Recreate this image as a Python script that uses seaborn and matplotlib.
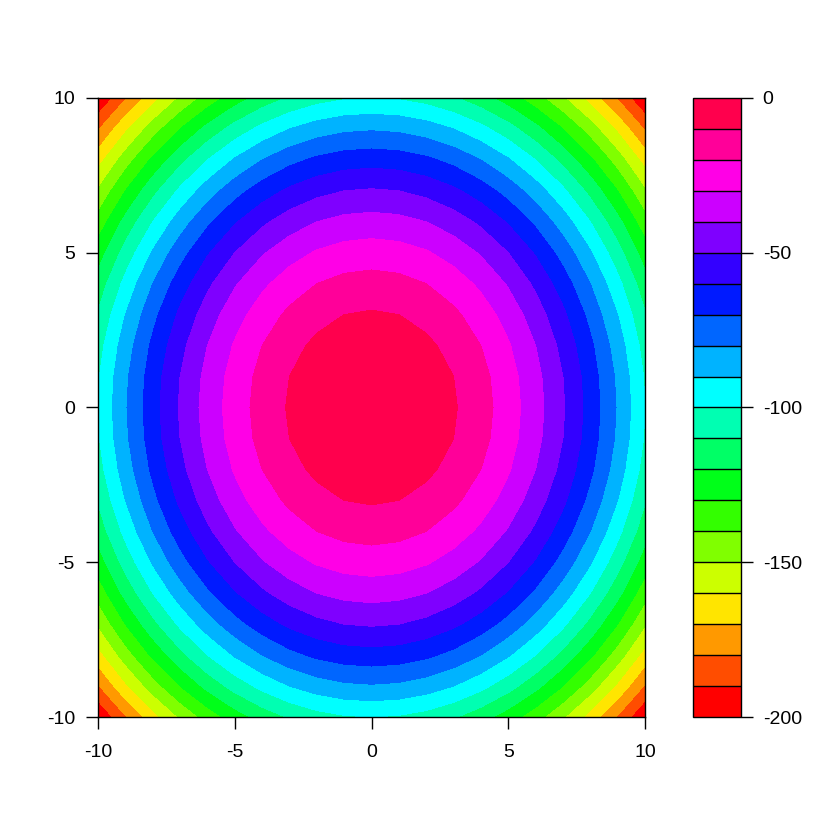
import matplotlib
matplotlib.use("Agg")
import matplotlib.pyplot as plt
import matplotlib.colors as mcolors
import numpy as np
import pandas as pd
import seaborn as sns

# grid coordinates
x_vals = [-10, -9, -8, -7, -6, -5, -4, -3, -2, -1, 0, 1, 2, 3, 4, 5, 6, 7, 8, 9, 10]
y_vals = [-10, -9, -8, -7, -6, -5, -4, -3, -2, -1, 0, 1, 2, 3, 4, 5, 6, 7, 8, 9, 10]

# surface values, rows follow y_vals, columns follow x_vals
z_rows = [
    [-200, -181, -164, -149, -136, -125, -116, -109, -104, -101, -100, -101, -104, -109, -116, -125, -136, -149, -164, -181, -200],
    [-181, -162, -145, -130, -117, -106, -97, -90, -85, -82, -81, -82, -85, -90, -97, -106, -117, -130, -145, -162, -181],
    [-164, -145, -128, -113, -100, -89, -80, -73, -68, -65, -64, -65, -68, -73, -80, -89, -100, -113, -128, -145, -164],
    [-149, -130, -113, -98, -85, -74, -65, -58, -53, -50, -49, -50, -53, -58, -65, -74, -85, -98, -113, -130, -149],
    [-136, -117, -100, -85, -72, -61, -52, -45, -40, -37, -36, -37, -40, -45, -52, -61, -72, -85, -100, -117, -136],
    [-125, -106, -89, -74, -61, -50, -41, -34, -29, -26, -25, -26, -29, -34, -41, -50, -61, -74, -89, -106, -125],
    [-116, -97, -80, -65, -52, -41, -32, -25, -20, -17, -16, -17, -20, -25, -32, -41, -52, -65, -80, -97, -116],
    [-109, -90, -73, -58, -45, -34, -25, -18, -13, -10, -9, -10, -13, -18, -25, -34, -45, -58, -73, -90, -109],
    [-104, -85, -68, -53, -40, -29, -20, -13, -8, -5, -4, -5, -8, -13, -20, -29, -40, -53, -68, -85, -104],
    [-101, -82, -65, -50, -37, -26, -17, -10, -5, -2, -1, -2, -5, -10, -17, -26, -37, -50, -65, -82, -101],
    [-100, -81, -64, -49, -36, -25, -16, -9, -4, -1, 0, -1, -4, -9, -16, -25, -36, -49, -64, -81, -100],
    [-101, -82, -65, -50, -37, -26, -17, -10, -5, -2, -1, -2, -5, -10, -17, -26, -37, -50, -65, -82, -101],
    [-104, -85, -68, -53, -40, -29, -20, -13, -8, -5, -4, -5, -8, -13, -20, -29, -40, -53, -68, -85, -104],
    [-109, -90, -73, -58, -45, -34, -25, -18, -13, -10, -9, -10, -13, -18, -25, -34, -45, -58, -73, -90, -109],
    [-116, -97, -80, -65, -52, -41, -32, -25, -20, -17, -16, -17, -20, -25, -32, -41, -52, -65, -80, -97, -116],
    [-125, -106, -89, -74, -61, -50, -41, -34, -29, -26, -25, -26, -29, -34, -41, -50, -61, -74, -89, -106, -125],
    [-136, -117, -100, -85, -72, -61, -52, -45, -40, -37, -36, -37, -40, -45, -52, -61, -72, -85, -100, -117, -136],
    [-149, -130, -113, -98, -85, -74, -65, -58, -53, -50, -49, -50, -53, -58, -65, -74, -85, -98, -113, -130, -149],
    [-164, -145, -128, -113, -100, -89, -80, -73, -68, -65, -64, -65, -68, -73, -80, -89, -100, -113, -128, -145, -164],
    [-181, -162, -145, -130, -117, -106, -97, -90, -85, -82, -81, -82, -85, -90, -97, -106, -117, -130, -145, -162, -181],
    [-200, -181, -164, -149, -136, -125, -116, -109, -104, -101, -100, -101, -104, -109, -116, -125, -136, -149, -164, -181, -200],
]

levels = [-200, -190, -180, -170, -160, -150, -140, -130, -120, -110, -100,
          -90, -80, -70, -60, -50, -40, -30, -20, -10, 0]
level_colors = ["#FF0000", "#FF4D00", "#FF9900", "#FFE500", "#CCFF00", "#80FF00",
                "#33FF00", "#00FF19", "#00FF66", "#00FFB2", "#00FFFF", "#00B3FF",
                "#0066FF", "#001AFF", "#3300FF", "#7F00FF", "#CC00FF", "#FF00E6",
                "#FF0099", "#FF004D"]
axis_ticks = [-10, -5, 0, 5, 10]
bar_ticks = [0, -50, -100, -150, -200]

sns.set_theme(style="white")
plt.rcParams["font.family"] = ["Liberation Sans", "DejaVu Sans"]

fig = plt.figure(figsize=(8.4, 8.4), dpi=100)
ax = fig.add_axes([98 / 840, 123 / 840, 547 / 840, 619 / 840])
cax = fig.add_axes([693 / 840, 123 / 840, 48 / 840, 619 / 840])

Z = np.array(z_rows, dtype=float)
cmap = mcolors.ListedColormap(level_colors)
norm = mcolors.BoundaryNorm(levels, cmap.N)
cs = ax.contourf(x_vals, y_vals, Z, levels=levels, cmap=cmap, norm=norm)

ax.set_xlim(-10, 10)
ax.set_ylim(-10, 10)
ax.set_xticks(axis_ticks)
ax.set_yticks(axis_ticks)
ax.set_xticklabels([str(t) for t in axis_ticks])
ax.set_yticklabels([str(t) for t in axis_ticks])
ax.tick_params(axis="both", direction="out", length=8.6, width=1, color="black",
               labelsize=14, labelcolor="black", bottom=True, left=True)
ax.tick_params(axis="x", pad=11)
ax.tick_params(axis="y", pad=8)
for sp in ax.spines.values():
    sp.set_visible(True)
    sp.set_color("black")
    sp.set_linewidth(1)

cb = fig.colorbar(cs, cax=cax, ticks=bar_ticks, drawedges=True)
cb.outline.set_edgecolor("black")
cb.outline.set_linewidth(1)
cb.dividers.set_color("black")
cb.dividers.set_linewidth(1)
cax.minorticks_off()
cax.set_yticks(bar_ticks)
cax.set_yticklabels([str(t) for t in bar_ticks])
cax.tick_params(axis="y", which="major", direction="out", length=8.6, width=1,
                color="black", labelsize=14, labelcolor="black", right=True, pad=7)
cax.tick_params(axis="y", which="minor", length=0)

fig.savefig("out.png", dpi=100, facecolor="white")
